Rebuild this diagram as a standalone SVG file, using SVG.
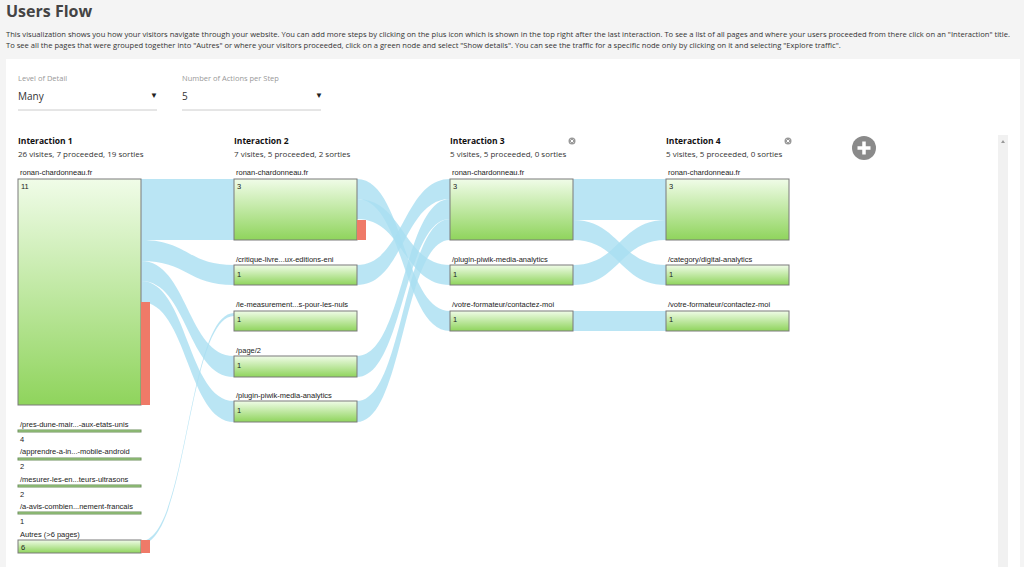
<svg xmlns="http://www.w3.org/2000/svg" width="1024" height="567" viewBox="0 0 1024 567">
<defs>
<linearGradient id="g" x1="0" y1="0" x2="0" y2="1"><stop offset="0" stop-color="#f0fce8"/><stop offset="1" stop-color="#8fd45c"/></linearGradient>
<style>
text{font-family:"Open Sans","Liberation Sans",sans-serif;fill:#333}
.n{fill:url(#g);stroke:#7a7a7a;stroke-width:1}
.tb{fill:#a5dc85;stroke:#6f8f5f;stroke-width:1}
.t{fill:#ef7a68}
.l{fill:#a9def1;opacity:0.8}
.lb{font-size:7.5px;fill:#222;font-family:"Liberation Sans",sans-serif}
.v{font-size:7.5px;fill:#222;font-family:"Liberation Sans",sans-serif}
.h{font-size:8.5px;font-weight:bold;fill:#111}
.s{font-size:8px;fill:#333}
.d{font-size:7.6px;fill:#333}
</style>
</defs>
<rect width="1024" height="567" fill="#f4f4f4"/>
<rect x="6" y="59" width="1014" height="520" fill="#fff"/>
<text x="6" y="17" style="font-size:16px;font-weight:bold;fill:#444">Users Flow</text>
<text class="d" x="6" y="37">This visualization shows you how your visitors navigate through your website. You can add more steps by clicking on the plus icon which is shown in the top right after the last interaction. To see a list of all pages and where your users proceeded from there click on an "Interaction" title.</text>
<text class="d" x="6" y="48">To see all the pages that were grouped together into "Autres" or where your visitors proceeded, click on a green node and select "Show details". You can see the traffic for a specific node only by clicking on it and selecting "Explore traffic".</text>
<g id="controls">
<text x="18" y="81" style="font-size:7.5px;fill:#999">Level of Detail</text>
<text x="18" y="100" style="font-size:10px;fill:#333">Many</text>
<text x="150" y="98" style="font-size:8px;fill:#222">▼</text>
<line x1="18" y1="110" x2="157" y2="110" stroke="#ccc"/>
<text x="182" y="81" style="font-size:7.5px;fill:#999">Number of Actions per Step</text>
<text x="182" y="100" style="font-size:10px;fill:#333">5</text>
<text x="315" y="98" style="font-size:8px;fill:#222">▼</text>
<line x1="182" y1="110" x2="321" y2="110" stroke="#ccc"/>
</g>
<rect x="998" y="135" width="10" height="432" fill="#f1f1f1"/>
<path d="M1001 143 L1005 143 L1003 140 Z" fill="#999"/>
<g id="connectors">
<rect class="l" x="141" y="179" width="93" height="61"/>
<path class="l" d="M141 240 C187.5 240 187.5 265 234 265 L234 285 C187.5 285 187.5 261 141 261 Z"/>
<path class="l" d="M141 261 C187.5 261 187.5 356 234 356 L234 377 C187.5 377 187.5 281 141 281 Z"/>
<path class="l" d="M141 281 C187.5 281 187.5 401 234 401 L234 422 C187.5 422 187.5 302 141 302 Z"/>
<path class="l" d="M141 541 C187.5 541 187.5 313 234 313 L234 316 C187.5 316 187.5 544 141 544 Z"/>
<path class="l" d="M357 179 C403.5 179 403.5 311 450 311 L450 331 C403.5 331 403.5 199 357 199 Z"/>
<path class="l" d="M357 199 C403.5 199 403.5 265 450 265 L450 285 C403.5 285 403.5 219 357 219 Z"/>
<path class="l" d="M357 265 C403.5 265 403.5 179 450 179 L450 199 C403.5 199 403.5 285 357 285 Z"/>
<path class="l" d="M357 356 C403.5 356 403.5 199 450 199 L450 219 C403.5 219 403.5 377 357 377 Z"/>
<path class="l" d="M357 401 C403.5 401 403.5 219 450 219 L450 240 C403.5 240 403.5 422 357 422 Z"/>
<rect class="l" x="573" y="179" width="93" height="41"/>
<path class="l" d="M573 220 C619.5 220 619.5 265 666 265 L666 285 C619.5 285 619.5 240 573 240 Z"/>
<path class="l" d="M573 265 C619.5 265 619.5 220 666 220 L666 240 C619.5 240 619.5 285 573 285 Z"/>
<rect class="l" x="573" y="311" width="93" height="20"/>
</g>
<g id="col1">
<text class="h" x="18" y="144">Interaction 1</text>
<text class="s" x="18" y="157">26 visites, 7 proceeded, 19 sorties</text>
</g>
<g id="n1-ronan"><text class="lb" x="20" y="175">ronan-chardonneau.fr</text><rect class="n" x="18" y="179" width="123" height="226"/><rect class="t" x="141" y="302" width="9" height="103"/><text class="v" x="21" y="189">11</text></g>
<g id="n1-pres"><text class="lb" x="20" y="427">/pres-dune-mair...-aux-etats-unis</text><rect class="tb" x="18" y="430" width="123" height="2"/><text class="v" x="20" y="442">4</text></g>
<g id="n1-apprendre"><text class="lb" x="20" y="454">/apprendre-a-in...-mobile-android</text><rect class="tb" x="18" y="458" width="123" height="2"/><text class="v" x="20" y="469">2</text></g>
<g id="n1-mesurer"><text class="lb" x="20" y="482">/mesurer-les-en...teurs-ultrasons</text><rect class="tb" x="18" y="485" width="123" height="2"/><text class="v" x="20" y="497">2</text></g>
<g id="n1-avis"><text class="lb" x="20" y="509">/a-avis-combien...nement-francais</text><rect class="tb" x="18" y="512" width="123" height="2"/><text class="v" x="20" y="524">1</text></g>
<g id="n1-autres"><text class="lb" x="20" y="537">Autres (&gt;6 pages)</text><rect class="n" x="18" y="540" width="123" height="13"/><rect class="t" x="141" y="540" width="9" height="13"/><text class="v" x="21" y="550">6</text></g>
<g id="col2">
<text class="h" x="234" y="144">Interaction 2</text>
<text class="s" x="234" y="157">7 visites, 5 proceeded, 2 sorties</text>
</g>
<g id="n2-ronan"><text class="lb" x="236" y="175">ronan-chardonneau.fr</text><rect class="n" x="234" y="179" width="123" height="61"/><rect class="t" x="357" y="220" width="9" height="20"/><text class="v" x="237" y="189">3</text></g>
<g id="n2-critique"><text class="lb" x="236" y="262">/critique-livre...ux-editions-eni</text><rect class="n" x="234" y="265" width="123" height="20"/><text class="v" x="237" y="277">1</text></g>
<g id="n2-measure"><text class="lb" x="236" y="307">/le-measurement...s-pour-les-nuls</text><rect class="n" x="234" y="311" width="123" height="20"/><text class="v" x="237" y="322">1</text></g>
<g id="n2-page2"><text class="lb" x="236" y="353">/page/2</text><rect class="n" x="234" y="356" width="123" height="21"/><text class="v" x="237" y="368">1</text></g>
<g id="n2-plugin"><text class="lb" x="236" y="398">/plugin-piwik-media-analytics</text><rect class="n" x="234" y="401" width="123" height="21"/><text class="v" x="237" y="413">1</text></g>
<g id="col3">
<text class="h" x="450" y="144">Interaction 3</text>
<text class="s" x="450" y="157">5 visites, 5 proceeded, 0 sorties</text>
<circle cx="572" cy="141" r="3.5" fill="#999"/><path d="M570.5 139.5 L573.5 142.5 M573.5 139.5 L570.5 142.5" stroke="#fff" stroke-width="1"/>
</g>
<g id="n3-ronan"><text class="lb" x="452" y="175">ronan-chardonneau.fr</text><rect class="n" x="450" y="179" width="123" height="61"/><text class="v" x="453" y="189">3</text></g>
<g id="n3-plugin"><text class="lb" x="452" y="262">/plugin-piwik-media-analytics</text><rect class="n" x="450" y="265" width="123" height="20"/><text class="v" x="453" y="277">1</text></g>
<g id="n3-votre"><text class="lb" x="452" y="307">/votre-formateur/contactez-moi</text><rect class="n" x="450" y="311" width="123" height="20"/><text class="v" x="453" y="322">1</text></g>
<g id="col4">
<text class="h" x="666" y="144">Interaction 4</text>
<text class="s" x="666" y="157">5 visites, 5 proceeded, 0 sorties</text>
<circle cx="788" cy="141" r="3.5" fill="#999"/><path d="M786.5 139.5 L789.5 142.5 M789.5 139.5 L786.5 142.5" stroke="#fff" stroke-width="1"/>
</g>
<g id="n4-ronan"><text class="lb" x="668" y="175">ronan-chardonneau.fr</text><rect class="n" x="666" y="179" width="123" height="61"/><text class="v" x="669" y="189">3</text></g>
<g id="n4-category"><text class="lb" x="668" y="262">/category/digital-analytics</text><rect class="n" x="666" y="265" width="123" height="20"/><text class="v" x="669" y="277">1</text></g>
<g id="n4-votre"><text class="lb" x="668" y="307">/votre-formateur/contactez-moi</text><rect class="n" x="666" y="311" width="123" height="20"/><text class="v" x="669" y="322">1</text></g>
<g id="add">
<circle cx="864" cy="148" r="12" fill="#8a8a8a"/>
<path d="M864 141.5 V154.5 M857.5 148 H870.5" stroke="#fff" stroke-width="3.5"/>
</g>
</svg>
